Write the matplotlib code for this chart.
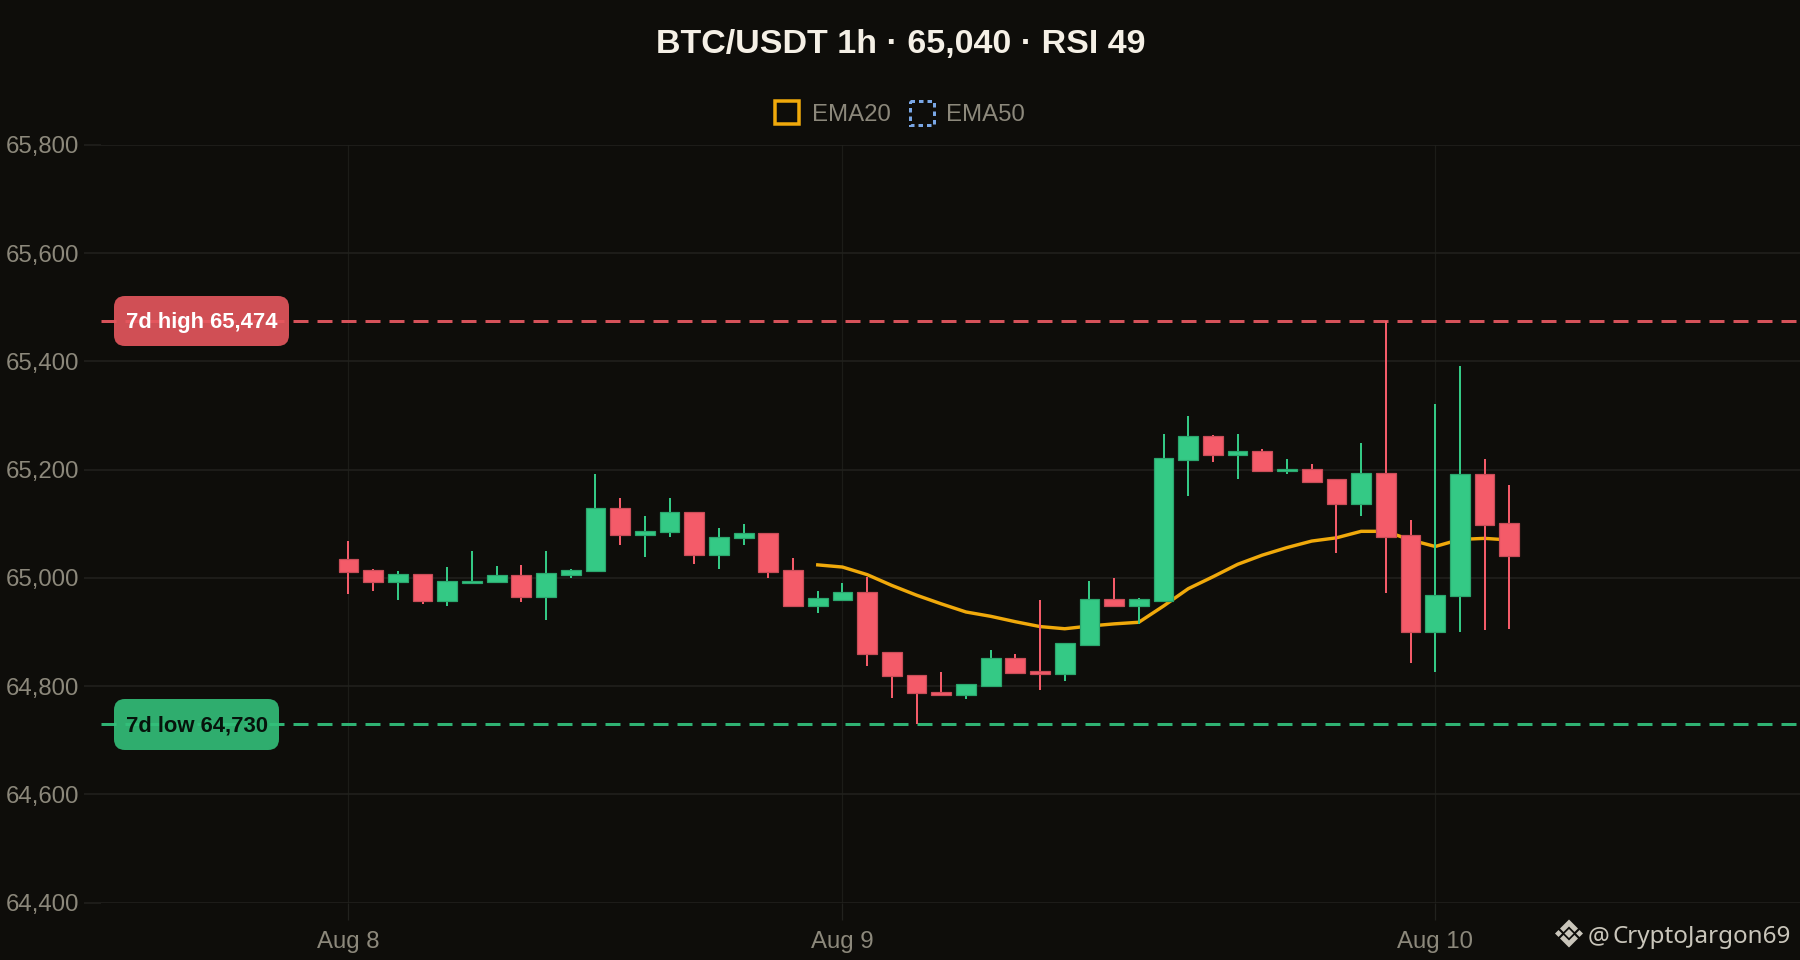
import matplotlib
matplotlib.use("Agg")
import matplotlib.pyplot as plt
import numpy as np
from matplotlib.patches import FancyBboxPatch, Polygon, Rectangle
from matplotlib.transforms import Affine2D

plt.rcParams['font.family'] = ['Liberation Sans', 'DejaVu Sans']
plt.rcParams['lines.scale_dashes'] = False

# hourly candles, values
opens = [65034, 65014, 64993, 65007, 64958, 64991, 64992, 65006, 64965, 65006,
         65013, 65129, 65079, 65084, 65121, 65042, 65073, 65083, 65014, 64948,
         64960, 64974, 64863, 64821, 64790, 64783, 64800, 64852, 64828, 64822,
         64876, 64961, 64948, 64958, 65218, 65262, 65227, 65234, 65197, 65201,
         65182, 65136, 65194, 65079, 64900, 64966, 65191, 65101]
closes = [65011, 64993, 65007, 64958, 64994, 64995, 65006, 64965, 65009, 65015,
          65129, 65079, 65087, 65121, 65042, 65076, 65083, 65011, 64948, 64963,
          64974, 64860, 64818, 64787, 64783, 64803, 64852, 64825, 64822, 64879,
          64961, 64948, 64961, 65221, 65262, 65227, 65234, 65197, 65201, 65178,
          65136, 65194, 65076, 64900, 64969, 65191, 65098, 65040]
highs = [65069, 65017, 65013, 65008, 65020, 65049, 65022, 65023, 65050, 65017,
         65191, 65148, 65115, 65148, 65121, 65092, 65100, 65083, 65037, 64975,
         64991, 65002, 64863, 64821, 64826, 64803, 64866, 64859, 64959, 64879,
         64994, 65000, 64962, 65266, 65300, 65264, 65266, 65239, 65219, 65210,
         65182, 65250, 65474, 65107, 65322, 65391, 65219, 65172]
lows = [64971, 64975, 64959, 64951, 64948, 64991, 64991, 64956, 64923, 64999,
        65013, 65061, 65039, 65075, 65025, 65017, 65060, 65000, 64948, 64935,
        64958, 64838, 64778, 64730, 64783, 64777, 64800, 64825, 64792, 64810,
        64876, 64948, 64914, 64958, 65151, 65214, 65182, 65197, 65192, 65178,
        65046, 65114, 64972, 64842, 64827, 64900, 64903, 64905]

ema20_start = 19
ema20 = [65024, 65020, 65006, 64986, 64968, 64952, 64937, 64929, 64919, 64910,
         64906, 64911, 64915, 64918, 64948, 64980, 65002, 65025, 65042, 65056,
         65068, 65074, 65086, 65086, 65070, 65058, 65071, 65073, 65070]

high_7d = 65474
low_7d = 64730

y_ticks = [64400, 64600, 64800, 65000, 65200, 65400, 65600, 65800]
y_labels = ['64,400', '64,600', '64,800', '65,000', '65,200', '65,400', '65,600', '65,800']
x_ticks = [0, 20, 44]
x_labels = ['Aug 8', 'Aug 9', 'Aug 10']

BG = '#0e0d0a'
GRID = '#22221e'
MUTED = '#8c887b'
UP = '#34c985'
UP_EDGE = '#2ba76e'
DOWN = '#f45b69'
DOWN_EDGE = '#c94d58'
PX = 0.72  # points per pixel at dpi 100

fig = plt.figure(figsize=(18, 9.6), dpi=100, facecolor=BG)
ax = fig.add_axes([101 / 1800, 1 - 902.6 / 960, 1699 / 1800, 757.7 / 960], facecolor=BG)
ax.set_xlim(-10.02, 58.77)
ax.set_ylim(64400, 65800)
for s in ax.spines.values():
    s.set_visible(False)

ax.set_yticks(y_ticks)
ax.set_yticklabels(y_labels)
ax.set_xticks(x_ticks)
ax.set_xticklabels(x_labels)
ax.tick_params(axis='both', colors=GRID, labelcolor=MUTED, labelsize=24 * PX,
               length=17 * PX, width=1.5 * PX)
ax.tick_params(axis='y', pad=5 * PX)
ax.tick_params(axis='x', pad=11 * PX, width=1.2 * PX)
ax.grid(True, axis='y', color=GRID, lw=1.5 * PX, zorder=0)
ax.grid(True, axis='x', color='#1c1c18', lw=1.2 * PX, zorder=0)
ax.set_axisbelow(True)

ax.axhline(high_7d, color='#d6525a', lw=3 * PX, ls=(0, (15 * PX, 9 * PX)), zorder=1)
ax.axhline(low_7d, color='#2fb273', lw=3 * PX, ls=(0, (15 * PX, 9 * PX)), zorder=1)

x = np.arange(len(opens))
ax.plot(np.arange(ema20_start, ema20_start + len(ema20)), ema20, color='#f0a90b',
        lw=3.4 * PX, zorder=2, solid_joinstyle='round')

opens = np.array(opens)
closes = np.array(closes)
up = closes >= opens
wick_cols = [UP if u else DOWN for u in up]
ax.vlines(x, lows, highs, colors=wick_cols, lw=2 * PX, zorder=3)
ax.bar(x, np.abs(closes - opens), bottom=np.minimum(opens, closes), width=0.8,
       color=wick_cols, edgecolor=[UP_EDGE if u else DOWN_EDGE for u in up],
       lw=1.2 * PX, zorder=4)

# everything below is placed in picture pixels, y going down
px = Affine2D().scale(1, -1).translate(0, 960)


def label(x0, x1, y0, y1, txt, col, txt_col):
    box = FancyBboxPatch((x0 + 11, y0 + 11), x1 - x0 - 22, y1 - y0 - 22,
                         boxstyle='round,pad=11,rounding_size=11', transform=px,
                         facecolor=col, edgecolor='none', alpha=0.9, zorder=6)
    fig.add_artist(box)
    fig.text((x0 + x1) / 2, (y0 + y1) / 2 + 1.5, txt, transform=px, color=txt_col,
             fontsize=22 * PX, fontweight='bold', ha='center', va='center', zorder=7)


label(114, 289, 296, 346, '7d high 65,474', '#e6575e', '#ffffff')
label(114, 279, 699, 750, '7d low 64,730', '#33c07a', '#06130b')

fig.text(901, 44.5, 'BTC/USDT 1h · 65,040 · RSI 49', transform=px, color='#f5f0e6',
         fontsize=34 * PX, fontweight='bold', ha='center', va='center')

# legend
fig.add_artist(Rectangle((775.3, 100.7), 23.7, 23.7, transform=px, fill=False,
                         edgecolor='#f0a90b', lw=3.5 * PX))
fig.text(811.5, 115, 'EMA20', transform=px, color=MUTED, fontsize=24 * PX, va='center')
fig.add_artist(Rectangle((910, 100.7), 24, 24, transform=px, fill=False, edgecolor='#7aa7e6',
                         lw=3 * PX, ls=(0, (4.5 * PX, 4 * PX))))
fig.text(946, 115, 'EMA50', transform=px, color=MUTED, fontsize=24 * PX, va='center')

# watermark
mark = '#c9c5ba'
cx, cy = 1569, 933.5
shapes = [
    [(0, -4.5), (4.5, 0), (0, 4.5), (-4.5, 0)],
    [(-14, 0), (-10.5, -3.5), (-7, 0), (-10.5, 3.5)],
    [(14, 0), (10.5, -3.5), (7, 0), (10.5, 3.5)],
    [(0, -14), (9, -5), (5.5, -1.5), (0, -7), (-5.5, -1.5), (-9, -5)],
    [(0, 14), (9, 5), (5.5, 1.5), (0, 7), (-5.5, 1.5), (-9, 5)],
]
for s in shapes:
    fig.add_artist(Polygon([(cx + a, cy + b) for a, b in s], transform=px, facecolor=mark,
                           edgecolor='none'))
fig.text(1588, 937, '@', transform=px, color=mark, fontsize=24.2 * PX, va='center',
         family='Noto Sans')
fig.text(1613, 937, 'CryptoJargon69', transform=px, color=mark, fontsize=24.2 * PX, va='center',
         family='Noto Sans')

fig.savefig('out.png', dpi=100, facecolor=BG)
